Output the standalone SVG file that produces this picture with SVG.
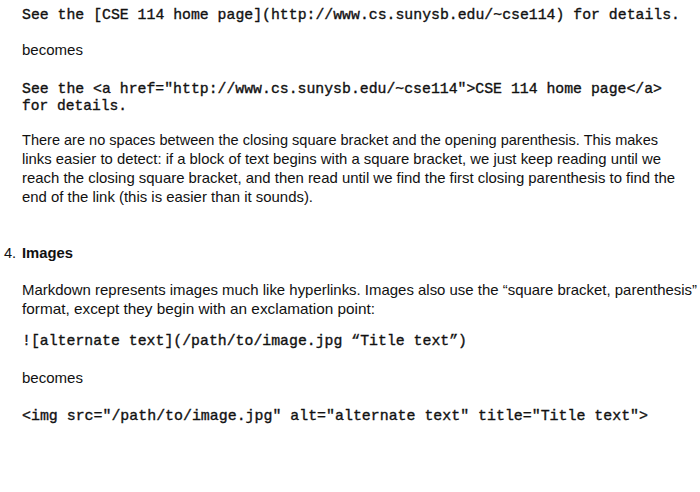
<svg xmlns="http://www.w3.org/2000/svg" width="700" height="492" viewBox="0 0 700 492">
<style>
.m{font-family:"Liberation Mono","Courier New",monospace;font-size:14.8px;fill:#111;stroke:#111;stroke-width:0.35px}
.s{font-family:"Liberation Sans",Arial,sans-serif;font-size:14.6px;fill:#111}
.b{font-weight:bold}
</style>
<rect width="700" height="492" fill="#fff"/>
<text class="m" x="22" y="19" textLength="658" lengthAdjust="spacingAndGlyphs">See the [CSE 114 home page](http://www.cs.sunysb.edu/~cse114) for details.</text>
<text class="s" x="22" y="55" textLength="61" lengthAdjust="spacingAndGlyphs">becomes</text>
<text class="m" x="22" y="93" textLength="640" lengthAdjust="spacingAndGlyphs">See the &lt;a href="http://www.cs.sunysb.edu/~cse114"&gt;CSE 114 home page&lt;/a&gt;</text>
<text class="m" x="22" y="110" textLength="105" lengthAdjust="spacingAndGlyphs">for details.</text>
<text class="s" x="22" y="145" textLength="636" lengthAdjust="spacingAndGlyphs">There are no spaces between the closing square bracket and the opening parenthesis. This makes</text>
<text class="s" x="22" y="164" textLength="639" lengthAdjust="spacingAndGlyphs">links easier to detect: if a block of text begins with a square bracket, we just keep reading until we</text>
<text class="s" x="22" y="183" textLength="653" lengthAdjust="spacingAndGlyphs">reach the closing square bracket, and then read until we find the first closing parenthesis to find the</text>
<text class="s" x="22" y="202" textLength="291" lengthAdjust="spacingAndGlyphs">end of the link (this is easier than it sounds).</text>
<text class="s" x="4" y="258">4.</text>
<text class="s b" x="22" y="258" textLength="51" lengthAdjust="spacingAndGlyphs">Images</text>
<text class="s" x="22" y="295" textLength="675" lengthAdjust="spacingAndGlyphs">Markdown represents images much like hyperlinks. Images also use the “square bracket, parenthesis”</text>
<text class="s" x="22" y="314" textLength="353" lengthAdjust="spacingAndGlyphs">format, except they begin with an exclamation point:</text>
<text class="m" x="22" y="345" textLength="445" lengthAdjust="spacingAndGlyphs">![alternate text](/path/to/image.jpg “Title text”)</text>
<text class="s" x="22" y="383" textLength="61" lengthAdjust="spacingAndGlyphs">becomes</text>
<text class="m" x="22" y="420" textLength="626" lengthAdjust="spacingAndGlyphs">&lt;img src="/path/to/image.jpg" alt="alternate text" title="Title text"&gt;</text>
</svg>
